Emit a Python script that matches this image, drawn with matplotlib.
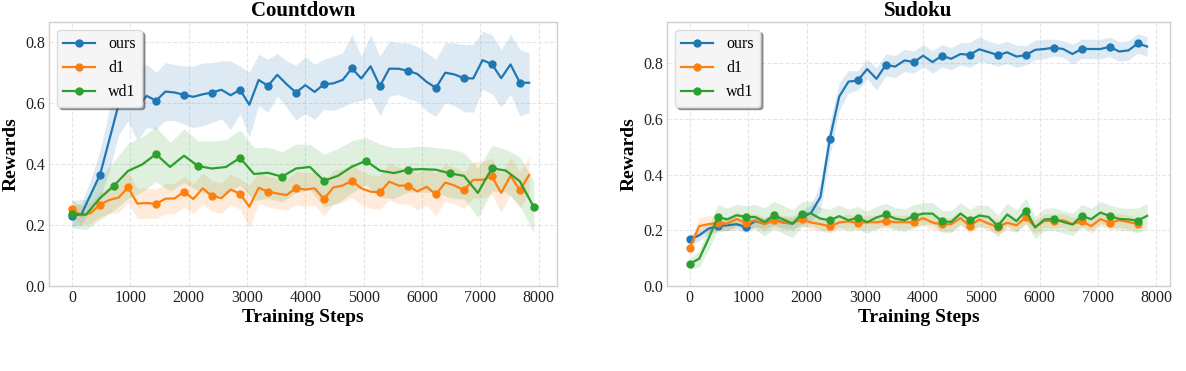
import numpy as np
import matplotlib
matplotlib.use("Agg")
import matplotlib.pyplot as plt

plt.rcParams['font.family'] = ['Liberation Serif', 'DejaVu Serif']

# logging interval (training steps between points)
step = 160
step_cd_wd1 = 240

# COUNTDOWN
cd_ours = [0.23, 0.235, 0.30, 0.365, 0.48, 0.596, 0.634, 0.587, 0.623, 0.607,
           0.637, 0.634, 0.626, 0.62, 0.628, 0.634, 0.643, 0.625, 0.643, 0.594,
           0.675, 0.656, 0.692, 0.661, 0.634, 0.658, 0.636, 0.661, 0.664, 0.675,
           0.713, 0.680, 0.720, 0.655, 0.712, 0.712, 0.705, 0.695, 0.669, 0.649,
           0.699, 0.693, 0.681, 0.680, 0.740, 0.727, 0.681, 0.726, 0.666, 0.666]
cd_ours_std = [0.035, 0.035, 0.05, 0.08, 0.1, 0.1, 0.093, 0.112, 0.104, 0.093,
               0.095, 0.092, 0.095, 0.101, 0.103, 0.098, 0.095, 0.112, 0.078, 0.106,
               0.084, 0.087, 0.07, 0.076, 0.09, 0.093, 0.09, 0.082, 0.089, 0.089,
               0.111, 0.073, 0.103, 0.098, 0.09, 0.085, 0.091, 0.09, 0.095, 0.094,
               0.098, 0.103, 0.11, 0.111, 0.095, 0.097, 0.094, 0.098, 0.109, 0.098]
cd_d1 = [0.252, 0.231, 0.239, 0.267, 0.282, 0.29, 0.323, 0.27, 0.272, 0.269,
         0.286, 0.287, 0.309, 0.285, 0.32, 0.295, 0.288, 0.316, 0.302, 0.26,
         0.322, 0.309, 0.303, 0.298, 0.321, 0.316, 0.32, 0.285, 0.323, 0.329,
         0.345, 0.32, 0.309, 0.307, 0.342, 0.329, 0.329, 0.31, 0.325, 0.30,
         0.339, 0.329, 0.314, 0.348, 0.348, 0.359, 0.305, 0.361, 0.314, 0.364]
cd_d1_std = [0.03, 0.03, 0.035, 0.04, 0.045, 0.05, 0.05, 0.05, 0.05, 0.048,
             0.05, 0.05, 0.05, 0.05, 0.05, 0.05, 0.05, 0.05, 0.05, 0.07,
             0.05, 0.05, 0.05, 0.05, 0.055, 0.055, 0.055, 0.055, 0.055, 0.055,
             0.055, 0.055, 0.055, 0.055, 0.06, 0.06, 0.06, 0.06, 0.06, 0.07,
             0.06, 0.06, 0.06, 0.06, 0.06, 0.06, 0.065, 0.06, 0.06, 0.06]
cd_wd1 = [0.236, 0.234, 0.288, 0.329, 0.377, 0.398, 0.432, 0.39, 0.427, 0.393,
          0.385, 0.39, 0.42, 0.367, 0.371, 0.358, 0.385, 0.39, 0.345, 0.361,
          0.391, 0.41, 0.378, 0.37, 0.381, 0.383, 0.381, 0.369, 0.361, 0.305,
          0.386, 0.378, 0.343, 0.258]
cd_wd1_std = [0.045, 0.05, 0.07, 0.08, 0.09, 0.09, 0.09, 0.08, 0.088, 0.082,
              0.09, 0.09, 0.09, 0.087, 0.084, 0.082, 0.08, 0.074, 0.087, 0.09,
              0.085, 0.077, 0.087, 0.084, 0.073, 0.076, 0.073, 0.08, 0.076, 0.08,
              0.075, 0.07, 0.08, 0.085]

# SUDOKU
sd_ours = [0.167, 0.182, 0.206, 0.215, 0.218, 0.222, 0.212, 0.233, 0.224, 0.239,
           0.228, 0.224, 0.246, 0.263, 0.32, 0.528, 0.68, 0.734, 0.738, 0.779,
           0.744, 0.794, 0.788, 0.81, 0.804, 0.827, 0.804, 0.827, 0.816, 0.833,
           0.83, 0.85, 0.84, 0.829, 0.839, 0.824, 0.829, 0.848, 0.851, 0.856,
           0.851, 0.833, 0.852, 0.851, 0.851, 0.859, 0.842, 0.846, 0.871, 0.86]
sd_ours_std = [0.02, 0.02, 0.02, 0.02, 0.02, 0.02, 0.02, 0.02, 0.02, 0.02,
               0.02, 0.02, 0.025, 0.03, 0.05, 0.06, 0.05, 0.04, 0.035, 0.035,
               0.04, 0.04, 0.04, 0.04, 0.04, 0.04, 0.04, 0.04, 0.04, 0.04,
               0.045, 0.045, 0.04, 0.04, 0.04, 0.04, 0.035, 0.035, 0.035, 0.03,
               0.03, 0.035, 0.035, 0.035, 0.035, 0.035, 0.035, 0.035, 0.035, 0.035]
sd_d1 = [0.138, 0.215, 0.222, 0.227, 0.224, 0.241, 0.227, 0.236, 0.222, 0.236,
         0.227, 0.227, 0.239, 0.228, 0.222, 0.214, 0.228, 0.232, 0.226, 0.229,
         0.229, 0.234, 0.229, 0.229, 0.229, 0.244, 0.228, 0.221, 0.222, 0.244,
         0.215, 0.239, 0.224, 0.212, 0.227, 0.218, 0.246, 0.212, 0.234, 0.233,
         0.236, 0.222, 0.233, 0.215, 0.24, 0.227, 0.236, 0.23, 0.222]
sd_d1_std = [0.015, 0.03, 0.03, 0.025, 0.025, 0.025, 0.025, 0.025, 0.025, 0.025,
             0.025, 0.025, 0.025, 0.025, 0.025, 0.025, 0.025, 0.025, 0.025, 0.025,
             0.025, 0.025, 0.025, 0.025, 0.025, 0.025, 0.025, 0.025, 0.025, 0.025,
             0.025, 0.025, 0.025, 0.025, 0.025, 0.025, 0.025, 0.025, 0.025, 0.025,
             0.025, 0.025, 0.025, 0.025, 0.025, 0.025, 0.025, 0.025, 0.025]
sd_wd1 = [0.08, 0.098, 0.17, 0.248, 0.239, 0.254, 0.248, 0.248, 0.23, 0.254,
          0.239, 0.224, 0.258, 0.26, 0.242, 0.236, 0.251, 0.236, 0.245, 0.229,
          0.246, 0.257, 0.242, 0.236, 0.252, 0.26, 0.26, 0.233, 0.23, 0.26,
          0.236, 0.253, 0.248, 0.215, 0.257, 0.233, 0.271, 0.21, 0.239, 0.241,
          0.23, 0.221, 0.252, 0.24, 0.264, 0.251, 0.241, 0.239, 0.235, 0.252]
sd_wd1_std = [0.02, 0.03, 0.04, 0.045, 0.04, 0.04, 0.04, 0.045, 0.05, 0.05,
              0.05, 0.05, 0.045, 0.045, 0.04, 0.04, 0.04, 0.04, 0.04, 0.04,
              0.04, 0.04, 0.04, 0.04, 0.04, 0.04, 0.04, 0.04, 0.04, 0.04,
              0.04, 0.04, 0.04, 0.04, 0.04, 0.04, 0.045, 0.04, 0.04, 0.04,
              0.04, 0.04, 0.04, 0.04, 0.04, 0.04, 0.04, 0.04, 0.045, 0.045]

labels = ['ours', 'd1', 'wd1']
colors = ['#1f77b4', '#ff7f0e', '#2ca02c']

panels = [
    ('Countdown', [(cd_ours, cd_ours_std, step), (cd_d1, cd_d1_std, step),
                   (cd_wd1, cd_wd1_std, step_cd_wd1)], 0.865),
    ('Sudoku', [(sd_ours, sd_ours_std, step), (sd_d1, sd_d1_std, step),
                (sd_wd1, sd_wd1_std, step)], 0.948),
]

fig = plt.figure(figsize=(11.86, 3.71), dpi=100)
rects = [[0.0413, 0.2291, 0.4283, 0.7116], [0.5624, 0.2291, 0.4241, 0.7116]]

for rect, (title, series, ytop) in zip(rects, panels):
    ax = fig.add_axes(rect)
    for (vals, std, dx), lab, col in zip(series, labels, colors):
        vals = np.array(vals)
        std = np.array(std)
        x = np.arange(len(vals)) * dx
        ax.fill_between(x, vals - std, vals + std, color=col, alpha=0.15, linewidth=0)
        ax.plot(x, vals, color=col, linewidth=1.6, marker='o', markersize=5,
                markevery=3, label=lab)
    ax.set_ylim(0, ytop)
    ax.set_xticks(range(0, 8001, 1000))
    ax.set_yticks([0.0, 0.2, 0.4, 0.6, 0.8])
    ax.set_yticklabels(['0.0', '0.2', '0.4', '0.6', '0.8'])
    ax.tick_params(length=0, labelsize=11.5, pad=3, colors='#222222')
    ax.grid(True, linestyle='--', color='#e6e6e6', linewidth=0.8)
    ax.set_axisbelow(True)
    for sp in ax.spines.values():
        sp.set_color('#d0d0d0')
        sp.set_linewidth(1.0)
    ax.set_title(title, fontsize=15, fontweight='bold', pad=4)
    ax.set_xlabel('Training Steps', fontsize=14, fontweight='bold', labelpad=2)
    ax.set_ylabel('Rewards', fontsize=14, fontweight='bold', labelpad=4)
    leg = ax.legend(loc='upper left', fontsize=11.5, frameon=True, shadow=True,
                    fancybox=True, facecolor='#f5f5f5', edgecolor='#dddddd',
                    framealpha=1.0)

plt.savefig('out.png', dpi=100)
